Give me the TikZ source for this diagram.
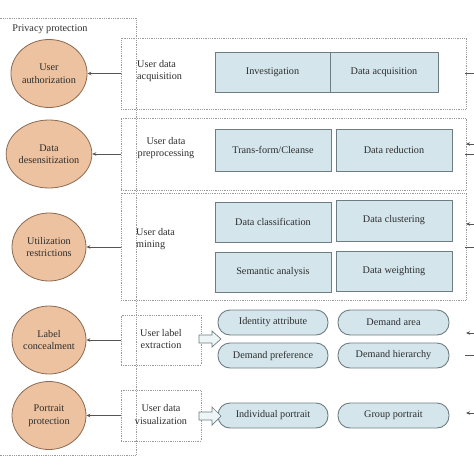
\documentclass[tikz,border=0pt]{standalone}
\usepackage{fontspec}
\setmainfont{Liberation Serif}
\usetikzlibrary{shapes.geometric,arrows.meta}
\definecolor{peach}{RGB}{236,194,160}
\definecolor{peachline}{RGB}{140,105,80}
\definecolor{bluefill}{RGB}{212,230,236}
\definecolor{blueline}{RGB}{110,125,130}
\definecolor{textc}{RGB}{45,45,45}
\definecolor{dotc}{RGB}{155,155,155}
\definecolor{arrc}{RGB}{85,85,85}
\begin{document}
\begin{tikzpicture}[x=1pt,y=-1pt,
  font=\fontsize{10.2}{12.5}\selectfont, text=textc,
  dotbox/.style={rectangle, draw=dotc, dash pattern=on 0.7pt off 1.1pt, line width=0.8pt, inner sep=0pt},
  circ/.style={ellipse, draw=peachline, fill=peach, line width=0.8pt, minimum width=74pt, minimum height=68pt, align=center, inner sep=0pt},
  bbox/.style={rectangle, draw=blueline, fill=bluefill, line width=0.9pt, inner sep=0pt},
  pill/.style={rectangle, rounded corners=12pt, draw=blueline, fill=bluefill, line width=0.9pt, minimum width=110pt, minimum height=25pt, inner sep=0pt},
  arr/.style={draw=arrc, line width=0.7pt, -{Stealth[length=4pt,width=3.5pt]}},
  frag/.style={draw=arrc, line width=0.7pt},
  blockarr/.style={draw=blueline, fill=bluefill!40, line width=0.7pt},
  lbl/.style={inner sep=0pt}]
\useasboundingbox (0,0) rectangle (474,474);

% outer privacy box
\node[dotbox, minimum width=140pt, minimum height=437pt] (outer) at (66,236.5) {};
\node[lbl] (ptitle) at (50,29) {Privacy protection};

% ellipses
\node[circ] (e1) at (49,73.5) {User\\authorization};
\node[circ] (e2) at (49,154) {Data\\desensitization};
\node[circ] (e3) at (49,247) {Utilization\\restrictions};
\node[circ] (e4) at (49,340) {Label\\concealment};
\node[circ] (e5) at (49,415.5) {Portrait\\protection};

% dotted stage boxes
\node[dotbox, minimum width=345pt, minimum height=71pt] (b1) at (293.5,73.5) {};
\node[dotbox, minimum width=345pt, minimum height=72pt] (b2) at (293.5,154) {};
\node[dotbox, minimum width=345pt, minimum height=107pt] (b3) at (293.5,246.5) {};
\node[dotbox, minimum width=80pt, minimum height=50pt] (b4) at (161,340) {};
\node[dotbox, minimum width=80pt, minimum height=51pt] (b5) at (161,415.5) {};

% stage labels
\node[lbl, anchor=west, align=left] (l1) at (137,71) {User data\\acquisition};
\node[lbl, align=center] (l2) at (166,148) {User data\\preprocessing};
\node[lbl, anchor=west, align=left] (l3) at (136,239) {User data\\mining};
\node[lbl, align=center] (l4) at (161,339) {User label\\extraction};
\node[lbl, align=center] (l5) at (161,414.5) {User data\\visualization};

% rectangles
\node[bbox, minimum width=115pt, minimum height=40pt] (r1) at (272.5,72) {Investigation};
\node[bbox, minimum width=108pt, minimum height=40pt] (r2) at (384,72) {Data acquisition};
\node[bbox, minimum width=116pt, minimum height=42pt] (r3) at (273,150) {Trans-form/Cleanse};
\node[bbox, minimum width=116pt, minimum height=42pt] (r4) at (394,150) {Data reduction};
\node[bbox, minimum width=116pt, minimum height=40pt] (r5) at (273,222) {Data classification};
\node[bbox, minimum width=116pt, minimum height=41pt] (r6) at (394,220.5) {Data clustering};
\node[bbox, minimum width=116pt, minimum height=40pt] (r7) at (273,272) {Semantic analysis};
\node[bbox, minimum width=116pt, minimum height=40pt] (r8) at (394,271) {Data weighting};

% pills
\node[pill] (p1) at (273,322.5) {Identity attribute};
\node[pill, minimum width=111pt] (p2) at (393.5,322.5) {Demand area};
\node[pill] (p3) at (273,355.5) {Demand preference};
\node[pill, minimum width=111pt] (p4) at (393.5,355.5) {Demand hierarchy};
\node[pill] (p5) at (273,415.5) {Individual portrait};
\node[pill, minimum width=111pt] (p6) at (393.5,415.5) {Group portrait};

% arrows to ellipses
\draw[arr] (b1.west) -- (e1.east);
\draw[arr] (b2.west) -- (e2.east);
\draw[arr] (b3.west |- e3.east) -- (e3.east);
\draw[arr] (b4.west) -- (e4.east);
\draw[arr] (b5.west |- e5.east) -- (e5.east);

% block arrows
\draw[blockarr] (199,335) -- (212,335) -- (212,331) -- (221,339) -- (212,347) -- (212,343) -- (199,343) -- cycle;
\draw[blockarr] (199,412) -- (212,412) -- (212,407) -- (221,416) -- (212,425) -- (212,420) -- (199,420) -- cycle;

% fragments at right edge
\coordinate (fa1) at (480,144); \coordinate (fb1) at (466,144);
\coordinate (fa2) at (480,224); \coordinate (fb2) at (466,224);
\coordinate (fa3) at (480,333); \coordinate (fb3) at (466,333);
\coordinate (fa4) at (480,413); \coordinate (fb4) at (466,413);
\draw[arr] (fa1) -- (fb1);
\draw[arr] (fa2) -- (fb2);
\draw[arr] (fa3) -- (fb3);
\draw[arr] (fa4) -- (fb4);
\coordinate (ga1) at (480,73); \coordinate (gb1) at (465,73);
\coordinate (ga2) at (480,154); \coordinate (gb2) at (465,154);
\coordinate (ga3) at (480,247); \coordinate (gb3) at (465,247);
\coordinate (ga4) at (480,355); \coordinate (gb4) at (465,355);
\draw[frag] (ga1) -- (gb1);
\draw[frag] (ga2) -- (gb2);
\draw[frag] (ga3) -- (gb3);
\draw[frag] (ga4) -- (gb4);
\end{tikzpicture}
\end{document}
